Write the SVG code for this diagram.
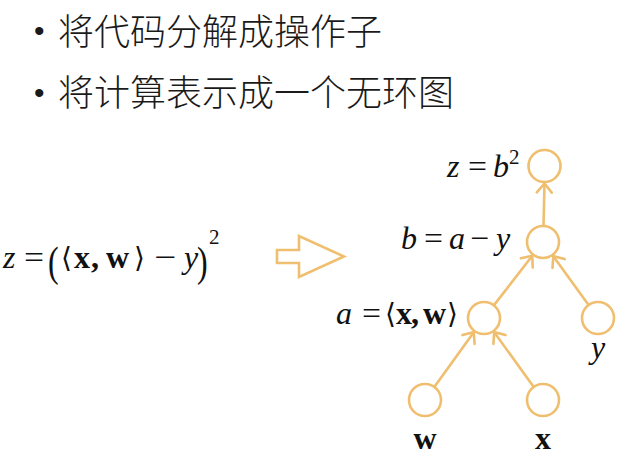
<svg xmlns="http://www.w3.org/2000/svg" width="626" height="467" viewBox="0 0 626 467">
<style>
.cjk{font-family:"Noto Sans CJK SC","Noto Sans",sans-serif;font-size:36px;fill:#1a1a1a;font-weight:300}
.bul{font-family:"Liberation Sans",sans-serif;font-size:30px;fill:#1a1a1a}
.m{font-family:"Liberation Serif","Times New Roman",serif;font-size:32px;fill:#111}
.i{font-style:italic}
.b{font-weight:bold}
.ang{font-family:"DejaVu Serif","DejaVu Sans",serif;font-size:28px}
.sup{font-size:21px}
.node{fill:#fff;stroke:#EFBF6F;stroke-width:2.6}
.edge{stroke:#EFBF6F;stroke-width:2.6;fill:none}
.big{fill:#fff;stroke:#EFBF6F;stroke-width:2.6;stroke-linejoin:miter}
</style>
<defs>
<marker id="ah" markerUnits="userSpaceOnUse" markerWidth="24" markerHeight="24" viewBox="-12 -12 24 24" refX="0" refY="0" orient="auto">
<path d="M-9,-7.5 L0,0 L-9,7.5" fill="none" stroke="#EFBF6F" stroke-width="2.6" stroke-linecap="round" stroke-linejoin="miter"/>
</marker>
</defs>
<rect width="626" height="467" fill="#fff"/>
<g id="bullets">
<text class="bul" x="34" y="41">•</text>
<text class="cjk" x="58" y="45">将代码分解成操作子</text>
<text class="bul" x="34" y="103">•</text>
<text class="cjk" x="58" y="106">将计算表示成一个无环图</text>
</g>
<g id="formula">
<text class="m" y="268"><tspan class="i" x="3">z</tspan><tspan class="b" x="74">x</tspan><tspan class="b" x="91">,</tspan><tspan class="b" x="106">w</tspan><tspan class="i" x="184">y</tspan></text>
<text class="m" x="24" y="268" textLength="20" lengthAdjust="spacingAndGlyphs">=</text>
<text class="m" x="154" y="268" textLength="22" lengthAdjust="spacingAndGlyphs">−</text>
<text class="m ang" y="267"><tspan x="61">⟨</tspan><tspan x="134">⟩</tspan></text>
<text class="m" transform="translate(48,276) scale(1,1.3)" font-size="40">(</text>
<text class="m" transform="translate(197,276) scale(1,1.3)" font-size="40">)</text>
<text class="m sup" x="209" y="244">2</text>
</g>
<g id="conv-arrow">
<polygon class="big" points="277,250 299,250 299,236 344,256.5 299,277 299,263 277,263"/>
</g>
<g id="connectors">
<line class="edge" x1="543.5" y1="226" x2="544.5" y2="183.5" marker-end="url(#ah)"/>
<line class="edge" x1="493.8" y1="305.4" x2="532.3" y2="255.8" marker-end="url(#ah)"/>
<line class="edge" x1="588.6" y1="305.0" x2="553.3" y2="256.2" marker-end="url(#ah)"/>
<line class="edge" x1="434.3" y1="387.0" x2="473.8" y2="332.2" marker-end="url(#ah)"/>
<line class="edge" x1="533.7" y1="387.0" x2="494.2" y2="332.2" marker-end="url(#ah)"/>
</g>
<g id="node-z">
<circle class="node" cx="544.5" cy="166" r="16"/>
<text class="m" y="177"><tspan class="i" x="447">z</tspan><tspan class="i" x="493">b</tspan><tspan class="sup" x="509" dy="-13">2</tspan></text>
<text class="m" x="468" y="177" textLength="19" lengthAdjust="spacingAndGlyphs">=</text>
</g>
<g id="node-b">
<circle class="node" cx="543" cy="242" r="16"/>
<text class="m" y="249"><tspan class="i" x="401">b</tspan><tspan class="i" x="449">a</tspan><tspan class="i" x="496">y</tspan></text>
<text class="m" x="424" y="249" textLength="19" lengthAdjust="spacingAndGlyphs">=</text>
<text class="m" x="470" y="249" textLength="19" lengthAdjust="spacingAndGlyphs">−</text>
</g>
<g id="node-a">
<circle class="node" cx="484" cy="318" r="16"/>
<text class="m" y="324"><tspan class="i" x="336">a</tspan><tspan class="b" x="396">x</tspan><tspan class="b" x="411">,</tspan><tspan class="b" x="423">w</tspan></text>
<text class="m" x="362" y="324" textLength="19" lengthAdjust="spacingAndGlyphs">=</text>
<text class="m ang" y="323"><tspan x="385">⟨</tspan><tspan x="447">⟩</tspan></text>
</g>
<g id="node-y">
<circle class="node" cx="598" cy="318" r="16"/>
<text class="m i" x="598" y="358" text-anchor="middle">y</text>
</g>
<g id="node-w">
<circle class="node" cx="425" cy="400" r="16"/>
<text class="m b" x="425" y="449" text-anchor="middle">w</text>
</g>
<g id="node-x">
<circle class="node" cx="543" cy="400" r="16"/>
<text class="m b" x="543" y="449" text-anchor="middle">x</text>
</g>
</svg>
